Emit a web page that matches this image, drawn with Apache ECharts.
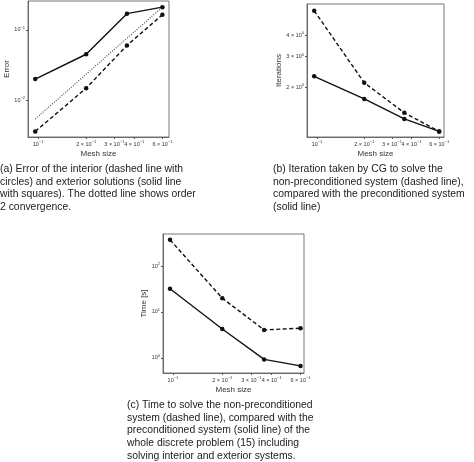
<!DOCTYPE html><html><head><meta charset="utf-8">
<script src="https://cdn.jsdelivr.net/npm/echarts@6/dist/echarts.min.js"></script>
<style>html,body{margin:0;padding:0;background:#fff}#c{width:474px;height:462px}</style></head><body><div id="c"></div>
<script>
const meshSize = [0.096, 0.2, 0.36, 0.6];
const errExterior = [0.020, 0.045, 0.17, 0.21];
const errInterior = [0.0036, 0.0148, 0.06, 0.164];
const errOrder2 = [0.0054, 0.0234, 0.076, 0.21];
const iterNonPrec = [5.52, 2.12, 1.42, 1.11];
const iterPrec = [2.31, 1.71, 1.31, 1.11];
const timeNonPrec = [372, 19.9, 4.07, 4.43];
const timePrec = [32, 4.27, 0.93, 0.67];
const xTicks = [0.1, 0.2, 0.3, 0.4, 0.6];
const yTicksA = [0.01, 0.1];
const yTicksB = [2, 3, 4];
const yTicksC = [1, 10, 100];
const captionA = ["(a) Error of the interior (dashed line with","circles) and exterior solutions (solid line","with squares). The dotted line shows order","2 convergence."];
const captionB = ["(b) Iteration taken by CG to solve the","non-preconditioned system (dashed line),","compared with the preconditioned system","(solid line)"];
const captionC = ["(c) Time to solve the non-preconditioned","system (dashed line), compared with the","preconditioned system (solid line) of the","whole discrete problem (15) including","solving interior and exterior systems."];

function sci(v){
  const e = Math.floor(Math.log10(v)+1e-9);
  const m = Math.round(v/Math.pow(10,e));
  const es = String(e).replace('-','\u2212');
  return (m===1?'{b|10}':'{b|'+m+' \u00d7 10}')+'{s|'+es+'}';
}
const rich = {b:{fontSize:5.5,color:'#333'},s:{fontSize:4,color:'#333',verticalAlign:'top',padding:[0,0,4,0]}};
const grids = [
  {left:28, top:1, width:141, height:136},
  {left:307, top:4, width:137, height:133},
  {left:163, top:234, width:141, height:139}
];
const xr = [[0.0865,0.66],[0.0864,0.644],[0.087,0.63]];
const yr = [[0.003,0.257],[1.03,6.04],[0.47,497]];
const yt = [yTicksA,yTicksB,yTicksC];
const yn = ['Error','Iterations','Time [s]'];
const xAxis = [], yAxis = [];
for(let i=0;i<3;i++){
  xAxis.push({type:'log',gridIndex:i,min:xr[i][0],max:xr[i][1],name:'Mesh size',nameLocation:'middle',nameGap:13,
    nameTextStyle:{fontSize:8,color:'#333'},axisLine:{show:true,onZero:false,lineStyle:{color:'#555',width:0.8}},
    axisTick:{show:true,length:2,customValues:xTicks,lineStyle:{color:'#555'}},
    axisLabel:{customValues:xTicks,formatter:sci,rich:rich,margin:3,showMinLabel:true,showMaxLabel:true},
    splitLine:{show:false}});
  yAxis.push({type:'log',gridIndex:i,min:yr[i][0],max:yr[i][1],name:yn[i],nameLocation:'middle',nameGap:14,
    nameTextStyle:{fontSize:8,color:'#333'},axisLine:{show:true,onZero:false,lineStyle:{color:'#555',width:0.8}},
    axisTick:{show:true,length:2,customValues:yt[i],lineStyle:{color:'#555'}},
    axisLabel:{customValues:yt[i],formatter:sci,rich:rich,margin:3},
    splitLine:{show:false}});
}
grids.forEach(g=>{g.show=true;g.borderColor='#555';g.borderWidth=0.8;g.backgroundColor='transparent';});
function line(data,i,type,sym){
  return {type:'line',xAxisIndex:i,yAxisIndex:i,data:meshSize.map((x,k)=>[x,data[k]]),
    symbol:sym?'circle':'none',symbolSize:4.5,itemStyle:{color:'#111'},
    lineStyle:{color:type==='dotted'?'#444':'#111',width:type==='dotted'?1.1:1.4,type:type==='dotted'?[1,1.5]:type==='dashed'?[4,2.5]:'solid'},
    silent:true,animation:false,z:type==='dotted'?1:2};
}
const series = [
  line(errOrder2,0,'dotted',false),
  line(errExterior,0,'solid',true),
  line(errInterior,0,'dashed',true),
  line(iterNonPrec,1,'dashed',true),
  line(iterPrec,1,'solid',true),
  line(timeNonPrec,2,'dashed',true),
  line(timePrec,2,'solid',true)
];
const graphic = [];
function cap(lines,x,y){lines.forEach((t,k)=>graphic.push({type:'text',left:x,top:y+k*12.8,style:{text:t,font:'10.4px "Liberation Sans", Arial, sans-serif',fill:'#222'}}));}
cap(captionA,0,164);
cap(captionB,273,164);
cap(captionC,127,400);
const chart = echarts.init(document.getElementById('c'),null,{renderer:'canvas'});
chart.setOption({animation:false,grid:grids,xAxis:xAxis,yAxis:yAxis,series:series,graphic:graphic});
</script></body></html>
